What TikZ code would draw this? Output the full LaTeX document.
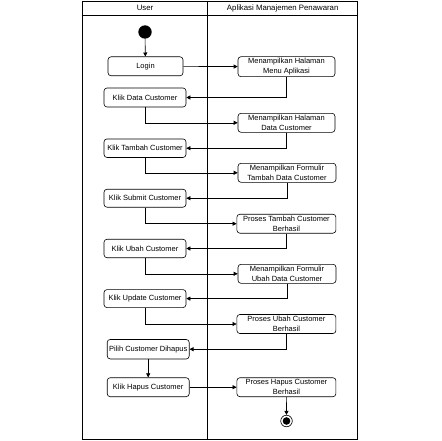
\documentclass[tikz,border=0pt]{standalone}
\usepackage{fontspec}
\setmainfont{Liberation Sans}
\usepackage{xcolor}
\usetikzlibrary{
  positioning,
  arrows.meta
}

\begin{document}
\begin{tikzpicture}[x=1pt,y=-1pt,
  act/.style={draw,rounded corners=3pt,line width=0.6pt,align=center,
    inner sep=1pt,minimum height=19pt,minimum width=82pt,
    font=\fontsize{7.5}{10}\selectfont},
  sys/.style={act,minimum width=98pt},
  flow/.style={-{Triangle[length=4pt,width=4pt]},line width=0.6pt},
  lane/.style={line width=0.8pt}]
  \useasboundingbox (0,0) rectangle (441,441);

  % swimlanes
  \draw[lane] (82,1) rectangle (357,439);
  \draw[lane] (82,15) -- (357,15);
  \draw[lane] (207.7,1) -- (207.7,439);
  \node[font=\fontsize{7.8}{9}\selectfont] (laneUser) at (145,8) {User};
  \node[font=\fontsize{7.8}{9}\selectfont] (laneApp) at (282.7,8) {Aplikasi Manajemen Penawaran};

  % start / end
  \node[circle,fill=black,minimum size=13.4pt,inner sep=0pt] (start) at (145,32) {};
  \node[circle,draw,line width=0.6pt,minimum size=11.6pt,inner sep=0pt,
    path picture={\fill (path picture bounding box.center) circle[radius=3.8pt];}]
    (finish) at (286.5,421) {};

  % user actions
  \node[act,minimum width=75pt] (login) at (145.5,66.3) {Login};
  \node[act] (klikData) at (145,97.5) {Klik Data Customer};
  \node[act,minimum height=18.5pt] (klikTambah) at (145,148.2) {Klik Tambah Customer};
  \node[act,minimum height=18pt] (klikSubmit) at (145,198.2) {Klik Submit Customer};
  \node[act,minimum height=18.5pt] (klikUbah) at (145,248.5) {Klik Ubah Customer};
  \node[act,minimum height=18pt] (klikUpdate) at (145,298.6) {Klik Update Customer};
  \node[act,minimum height=19.5pt] (pilihHapus) at (148.2,349.2) {Pilih Customer Dihapus};
  \node[act] (klikHapus) at (148.2,387.2) {Klik Hapus Customer};

  % system actions
  \node[sys,minimum width=97pt,minimum height=20pt] (menuApp) at (286.5,66.7) {Menampilkan Halaman\\Menu Aplikasi};
  \node[sys,minimum width=97pt] (halData) at (286.5,122.8) {Menampilkan Halaman\\Data Customer};
  \node[sys] (formTambah) at (287,172.8) {Menampilkan Formulir\\Tambah Data Customer};
  \node[sys,minimum width=99pt] (okTambah) at (286.4,223.7) {Proses Tambah Customer\\Berhasil};
  \node[sys] (formUbah) at (287,273.8) {Menampilkan Formulir\\Ubah Data Customer};
  \node[sys,minimum width=99pt] (okUbah) at (286.4,324) {Proses Ubah Customer\\Berhasil};
  \node[sys,minimum width=99pt] (okHapus) at (286.4,387.2) {Proses Hapus Customer\\Berhasil};

  % flows
  \draw[flow] (start) -- (login);
  \draw[flow] (login) -- (menuApp);
  \draw[flow] (menuApp.south) |- (klikData.east);
  \draw[flow] (klikData.south) |- (halData.west);
  \draw[flow] (halData.south) |- (klikTambah.east);
  \draw[flow] (klikTambah.south) |- (formTambah.west);
  \draw[flow] (formTambah.south) |- (klikSubmit.east);
  \draw[flow] (klikSubmit.south) |- (okTambah.west);
  \draw[flow] (okTambah.south) |- (klikUbah.east);
  \draw[flow] (klikUbah.south) |- (formUbah.west);
  \draw[flow] (formUbah.south) |- (klikUpdate.east);
  \draw[flow] (klikUpdate.south) |- (okUbah.west);
  \draw[flow] (okUbah.south) |- (pilihHapus.east);
  \draw[flow] (pilihHapus) -- (klikHapus);
  \draw[flow] (klikHapus) -- (okHapus);
  \draw[flow] (okHapus) -- (finish);
\end{tikzpicture}
\end{document}
